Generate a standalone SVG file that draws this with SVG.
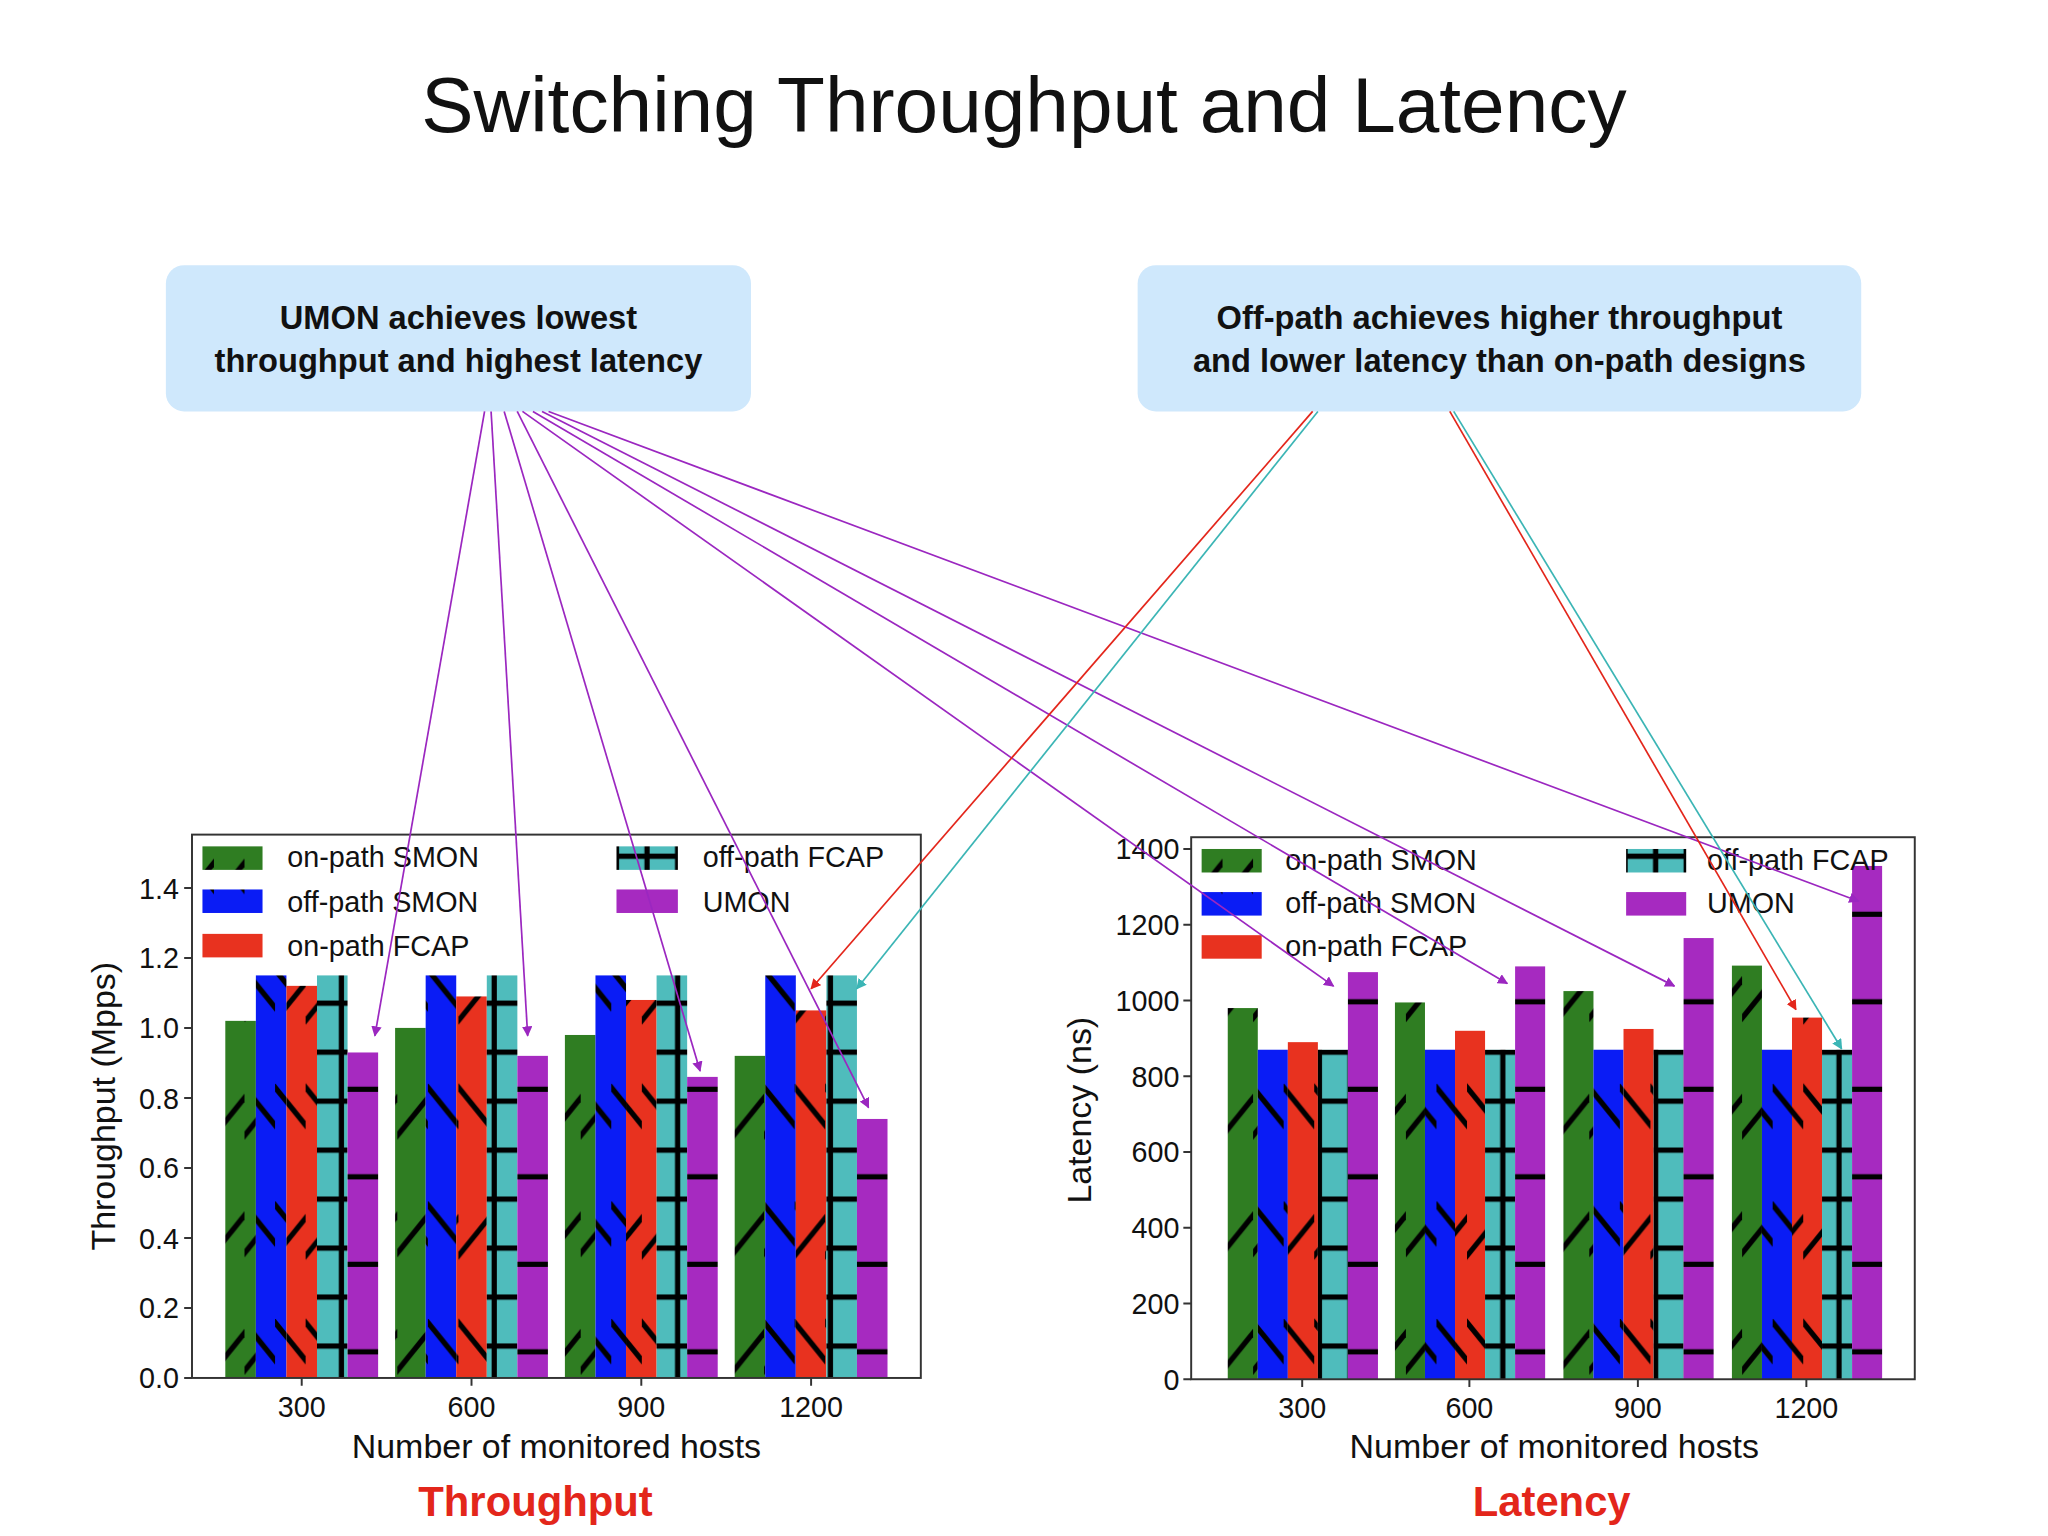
<svg xmlns="http://www.w3.org/2000/svg" width="2048" height="1536" viewBox="0 0 2048 1536">
<style>
text{font-family:"Liberation Sans",Arial,sans-serif;fill:#111}
.t{font-size:22px}
.ax{font-size:26px}
.tk{font-size:22px;text-anchor:end}
.xl{font-size:22px;text-anchor:middle}
.cap{font-size:32px;font-weight:bold;fill:#e3261b;text-anchor:middle}
.bx{fill:#cfe8fc}
.bt{font-size:25px;font-weight:bold;text-anchor:middle}
.frame{fill:none;stroke:#333;stroke-width:1.5}
.p{stroke:#9b27c0;stroke-width:1.3;fill:none;marker-end:url(#mp)}
.r{stroke:#e3261b;stroke-width:1.3;fill:none;marker-end:url(#mr)}
.c{stroke:#3bb5b5;stroke-width:1.3;fill:none;marker-end:url(#mc)}
</style>
<defs>
<marker id="mp" viewBox="0 0 10 10" refX="9" refY="5" markerWidth="8" markerHeight="8" orient="auto" markerUnits="userSpaceOnUse"><path d="M0,0L10,5L0,10z" fill="#9b27c0"/></marker>
<marker id="mr" viewBox="0 0 10 10" refX="9" refY="5" markerWidth="8" markerHeight="8" orient="auto" markerUnits="userSpaceOnUse"><path d="M0,0L10,5L0,10z" fill="#e3261b"/></marker>
<marker id="mc" viewBox="0 0 10 10" refX="9" refY="5" markerWidth="8" markerHeight="8" orient="auto" markerUnits="userSpaceOnUse"><path d="M0,0L10,5L0,10z" fill="#3bb5b5"/></marker>
<pattern id="pg" patternUnits="userSpaceOnUse" width="23.4" height="90"><rect width="23.4" height="90" fill="#2f7d22"/><path d="M-2,62L25.4,28" stroke="#000" stroke-width="4"/></pattern>
<pattern id="pb" patternUnits="userSpaceOnUse" width="23.4" height="90"><rect width="23.4" height="90" fill="#0a1cf5"/><path d="M-2,20L25.4,54" stroke="#000" stroke-width="4"/></pattern>
<pattern id="pr" patternUnits="userSpaceOnUse" width="23.4" height="180"><rect width="23.4" height="180" fill="#e8321f"/><path d="M-2,64L25.4,30M-2,110L25.4,144" stroke="#000" stroke-width="4"/></pattern>
<pattern id="pc" patternUnits="userSpaceOnUse" width="23.4" height="37.5"><rect width="23.4" height="37.5" fill="#4fbcbc"/><path d="M4,0V37.5M0,18H23.4" stroke="#000" stroke-width="4"/></pattern>
<pattern id="pm" patternUnits="userSpaceOnUse" width="23.4" height="67"><rect width="23.4" height="67" fill="#a62ac0"/><path d="M0,30H23.4" stroke="#000" stroke-width="4"/></pattern>
</defs>
<rect width="2048" height="1536" fill="#fff"/>
<g transform="scale(1.30612)">
<text x="784" y="101" style="font-size:60px" text-anchor="middle">Switching Throughput and Latency</text>

<g id="box-umon"><rect class="bx" x="127" y="203" width="448" height="112" rx="14"/>
<text class="bt" x="351" y="252">UMON achieves lowest</text><text class="bt" x="351" y="285">throughput and highest latency</text></g>
<g id="box-offpath"><rect class="bx" x="871" y="203" width="554" height="112" rx="14"/>
<text class="bt" x="1148" y="252">Off-path achieves higher throughput</text><text class="bt" x="1148" y="285">and lower latency than on-path designs</text></g>

<g id="chart-throughput">
<g id="tp-bars">
<rect x="172.5" y="781.6" width="23.4" height="273.4" fill="url(#pg)"/><rect x="195.9" y="746.8" width="23.4" height="308.2" fill="url(#pb)"/><rect x="219.3" y="754.8" width="23.4" height="300.2" fill="url(#pr)"/><rect x="242.7" y="746.8" width="23.4" height="308.2" fill="url(#pc)"/><rect x="266.1" y="805.8" width="23.4" height="249.2" fill="url(#pm)"/>
<rect x="302.5" y="787" width="23.4" height="268" fill="url(#pg)"/><rect x="325.9" y="746.8" width="23.4" height="308.2" fill="url(#pb)"/><rect x="349.3" y="762.9" width="23.4" height="292.1" fill="url(#pr)"/><rect x="372.7" y="746.8" width="23.4" height="308.2" fill="url(#pc)"/><rect x="396.1" y="808.4" width="23.4" height="246.6" fill="url(#pm)"/>
<rect x="432.5" y="792.4" width="23.4" height="262.6" fill="url(#pg)"/><rect x="455.9" y="746.8" width="23.4" height="308.2" fill="url(#pb)"/><rect x="479.3" y="765.6" width="23.4" height="289.4" fill="url(#pr)"/><rect x="502.7" y="746.8" width="23.4" height="308.2" fill="url(#pc)"/><rect x="526.1" y="824.5" width="23.4" height="230.5" fill="url(#pm)"/>
<rect x="562.5" y="808.4" width="23.4" height="246.6" fill="url(#pg)"/><rect x="585.9" y="746.8" width="23.4" height="308.2" fill="url(#pb)"/><rect x="609.3" y="773.6" width="23.4" height="281.4" fill="url(#pr)"/><rect x="632.7" y="746.8" width="23.4" height="308.2" fill="url(#pc)"/><rect x="656.1" y="856.7" width="23.4" height="198.3" fill="url(#pm)"/>
</g>
<rect class="frame" x="147" y="639" width="558" height="416"/>
<g stroke="#333" stroke-width="1.5"><path d="M141,1055h6M141,1001.4h6M141,947.8h6M141,894.2h6M141,840.6h6M141,787h6M141,733.4h6M141,679.8h6M231,1055v6M361,1055v6M491,1055v6M621,1055v6"/></g>
<text class="tk" x="137" y="1063">0.0</text><text class="tk" x="137" y="1009">0.2</text><text class="tk" x="137" y="956">0.4</text><text class="tk" x="137" y="902">0.6</text><text class="tk" x="137" y="849">0.8</text><text class="tk" x="137" y="795">1.0</text><text class="tk" x="137" y="741">1.2</text><text class="tk" x="137" y="688">1.4</text>
<text class="xl" x="231" y="1085">300</text><text class="xl" x="361" y="1085">600</text><text class="xl" x="491" y="1085">900</text><text class="xl" x="621" y="1085">1200</text>
<text class="ax" x="426" y="1116" text-anchor="middle">Number of monitored hosts</text>
<text class="ax" transform="translate(88,847) rotate(-90)" text-anchor="middle">Throughput (Mpps)</text>
<g id="tp-legend">
<rect x="155" y="648" width="46" height="18" fill="url(#pg)"/><text class="t" x="220" y="664">on-path SMON</text>
<rect x="155" y="681" width="46" height="18" fill="url(#pb)"/><text class="t" x="220" y="698">off-path SMON</text>
<rect x="155" y="715" width="46" height="18" fill="url(#pr)"/><text class="t" x="220" y="732">on-path FCAP</text>
<rect x="472" y="648" width="47" height="18" fill="url(#pc)"/><text class="t" x="538" y="664">off-path FCAP</text>
<rect x="472" y="681" width="47" height="18" fill="#a62ac0"/><text class="t" x="538" y="698">UMON</text>
</g>
<text class="cap" x="410" y="1161">Throughput</text>
</g>

<g id="chart-latency">
<g id="lat-bars">
<rect x="940" y="771.8" width="23" height="284.2" fill="url(#pg)"/><rect x="963" y="803.7" width="23" height="252.3" fill="url(#pb)"/><rect x="986" y="797.9" width="23" height="258.1" fill="url(#pr)"/><rect x="1009" y="803.7" width="23" height="252.3" fill="url(#pc)"/><rect x="1032" y="744.3" width="23" height="311.7" fill="url(#pm)"/>
<rect x="1068" y="767.5" width="23" height="288.5" fill="url(#pg)"/><rect x="1091" y="803.7" width="23" height="252.3" fill="url(#pb)"/><rect x="1114" y="789.2" width="23" height="266.8" fill="url(#pr)"/><rect x="1137" y="803.7" width="23" height="252.3" fill="url(#pc)"/><rect x="1160" y="739.9" width="23" height="316.1" fill="url(#pm)"/>
<rect x="1197" y="758.8" width="23" height="297.2" fill="url(#pg)"/><rect x="1220" y="803.7" width="23" height="252.3" fill="url(#pb)"/><rect x="1243" y="787.8" width="23" height="268.2" fill="url(#pr)"/><rect x="1266" y="803.7" width="23" height="252.3" fill="url(#pc)"/><rect x="1289" y="718.2" width="23" height="337.8" fill="url(#pm)"/>
<rect x="1326" y="739.3" width="23" height="316.7" fill="url(#pg)"/><rect x="1349" y="803.7" width="23" height="252.3" fill="url(#pb)"/><rect x="1372" y="779.1" width="23" height="276.9" fill="url(#pr)"/><rect x="1395" y="803.7" width="23" height="252.3" fill="url(#pc)"/><rect x="1418" y="663" width="23" height="393" fill="url(#pm)"/>
</g>
<rect class="frame" x="912" y="641" width="554" height="415"/>
<g stroke="#333" stroke-width="1.5"><path d="M906,1056h6M906,998h6M906,940h6M906,882h6M906,824h6M906,766h6M906,708h6M906,650h6M997,1056v6M1125,1056v6M1254,1056v6M1383,1056v6"/></g>
<text class="tk" x="903" y="1064">0</text><text class="tk" x="903" y="1006">200</text><text class="tk" x="903" y="948">400</text><text class="tk" x="903" y="890">600</text><text class="tk" x="903" y="832">800</text><text class="tk" x="903" y="774">1000</text><text class="tk" x="903" y="716">1200</text><text class="tk" x="903" y="658">1400</text>
<text class="xl" x="997" y="1086">300</text><text class="xl" x="1125" y="1086">600</text><text class="xl" x="1254" y="1086">900</text><text class="xl" x="1383" y="1086">1200</text>
<text class="ax" x="1190" y="1116" text-anchor="middle">Number of monitored hosts</text>
<text class="ax" transform="translate(835,850) rotate(-90)" text-anchor="middle">Latency (ns)</text>
<g id="lat-legend">
<rect x="920" y="650" width="46" height="18" fill="url(#pg)"/><text class="t" x="984" y="666">on-path SMON</text>
<rect x="920" y="683" width="46" height="18" fill="url(#pb)"/><text class="t" x="984" y="699">off-path SMON</text>
<rect x="920" y="716" width="46" height="18" fill="url(#pr)"/><text class="t" x="984" y="732">on-path FCAP</text>
<rect x="1245" y="650" width="46" height="18" fill="url(#pc)"/><text class="t" x="1307" y="666">off-path FCAP</text>
<rect x="1245" y="683" width="46" height="18" fill="#a62ac0"/><text class="t" x="1307" y="699">UMON</text>
</g>
<text class="cap" x="1188" y="1161">Latency</text>
</g>

<g id="connectors">
<path class="p" d="M371,315L287,793"/>
<path class="p" d="M376,315L404,793"/>
<path class="p" d="M386,315L536,820"/>
<path class="p" d="M396,315L665,848"/>
<path class="p" d="M400,315L1021,755"/>
<path class="p" d="M408,315L1154,753"/>
<path class="p" d="M415,315L1282,755"/>
<path class="p" d="M420,315L1423,690"/>
<path class="r" d="M1005,315L621,757"/>
<path class="c" d="M1009,315L656,757"/>
<path class="r" d="M1110,315L1375,773"/>
<path class="c" d="M1113,315L1410,803"/>
</g>
</g>
</svg>
